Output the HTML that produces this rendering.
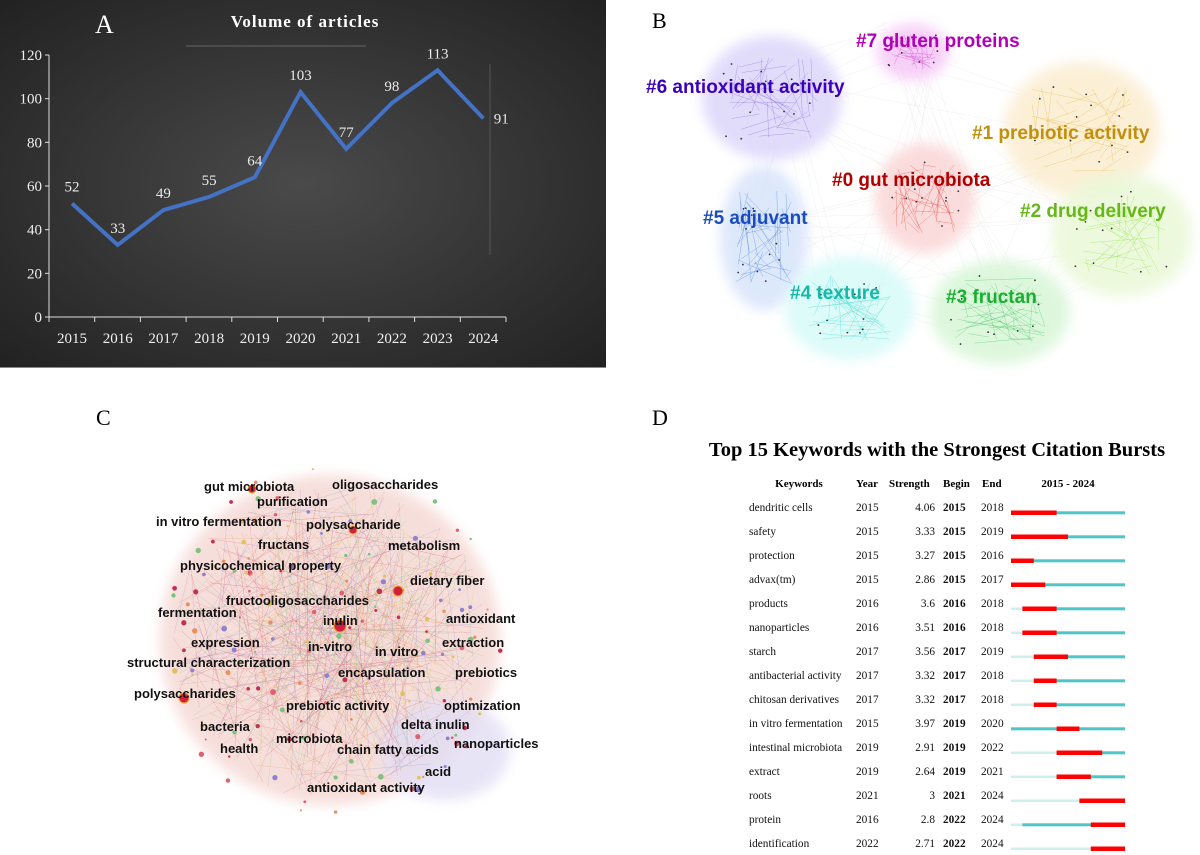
<!DOCTYPE html>
<html><head><meta charset="utf-8">
<style>
html,body{margin:0;padding:0;background:#fff;}
svg{display:block;font-family:"Liberation Sans",sans-serif;}
.serif{font-family:"Liberation Serif",serif;}
</style></head>
<body>
<svg id="root" width="1200" height="855" viewBox="0 0 1200 855" xmlns="http://www.w3.org/2000/svg">
<defs>
<radialGradient id="bgA" cx="0.5" cy="0.5" r="0.75">
<stop offset="0" stop-color="#4a4a4a"/><stop offset="1" stop-color="#1f1f1f"/>
</radialGradient>
<filter id="blur" x="-30%" y="-30%" width="160%" height="160%"><feGaussianBlur stdDeviation="6"/></filter>
</defs>

<!-- Panel A -->
<g id="panelA">
<rect x="0" y="0" width="606" height="368" fill="url(#bgA)"/>
<line x1="0" y1="367.5" x2="606" y2="367.5" stroke="#888" stroke-width="1"/>
<text x="95" y="33" class="serif" font-size="26" fill="#fff">A</text>
<text x="305" y="27" class="serif" font-size="17" font-weight="bold" fill="#fff" text-anchor="middle" letter-spacing="1">Volume of articles</text>
<line x1="186" y1="46" x2="366" y2="46" stroke="#666" stroke-width="1"/>
<line x1="490" y1="64" x2="490" y2="255" stroke="#555" stroke-width="1"/>
<g id="axesA"></g>
<g id="marksA"></g>
</g>

<!-- Panel B -->
<g id="panelB">
<text x="652" y="28" class="serif" font-size="22" fill="#000">B</text>
<g id="blobsB"></g>
<g id="labelsB" font-weight="bold" font-size="19"></g>
</g>

<!-- Panel C -->
<g id="panelC">
<text x="96" y="425" class="serif" font-size="22" fill="#000">C</text>
<g id="netC"></g>
<g id="labelsC" font-weight="bold" font-size="13" fill="#111"></g>
</g>

<!-- Panel D -->
<g id="panelD">
<text x="652" y="425" class="serif" font-size="22" fill="#000">D</text>
<text x="937" y="456" class="serif" font-size="20.5" font-weight="bold" text-anchor="middle">Top 15 Keywords with the Strongest Citation Bursts</text>
<g class="serif" font-size="11" font-weight="bold">
<text x="799" y="487" text-anchor="middle">Keywords</text>
<text x="856" y="487">Year</text>
<text x="889" y="487">Strength</text>
<text x="943" y="487">Begin</text>
<text x="982" y="487">End</text>
<text x="1068" y="487" text-anchor="middle">2015 - 2024</text>
</g>
<g id="rowsD" class="serif" font-size="11.3" fill="#111"></g>
</g>
</svg>

<script>
// ---- Panel A data ----
const years = ["2015","2016","2017","2018","2019","2020","2021","2022","2023","2024"];
const articles = [52,33,49,55,64,103,77,98,113,91];
const yTicks = [0,20,40,60,80,100,120];

// ---- Panel B data ----
const clusterNames = ["#7 gluten proteins","#6 antioxidant activity","#1 prebiotic activity","#0 gut microbiota","#2 drug delivery","#5 adjuvant","#4 texture","#3 fructan"];

// ---- Panel C data ----
const keywordsC = ["gut microbiota","oligosaccharides","purification","in vitro fermentation","polysaccharide","fructans","metabolism","physicochemical property","dietary fiber","fructooligosaccharides","fermentation","antioxidant","inulin","expression","extraction","in-vitro","in vitro","structural characterization","encapsulation","prebiotics","polysaccharides","prebiotic activity","optimization","delta inulin","bacteria","nanoparticles","microbiota","health","chain fatty acids","acid","antioxidant activity"];

// ---- Panel D data ----
const burstKeywords = ["dendritic cells","safety","protection","advax(tm)","products","nanoparticles","starch","antibacterial activity","chitosan derivatives","in vitro fermentation","intestinal microbiota","extract","roots","protein","identification"];
const burstYear = [2015,2015,2015,2015,2016,2016,2017,2017,2017,2015,2019,2019,2021,2016,2022];
const burstStrength = ["4.06","3.33","3.27","2.86","3.6","3.51","3.56","3.32","3.32","3.97","2.91","2.64","3","2.8","2.71"];
const burstBegin = [2015,2015,2015,2015,2016,2016,2017,2017,2017,2019,2019,2019,2021,2022,2022];
const burstEnd = [2018,2019,2016,2017,2018,2018,2019,2018,2018,2020,2022,2021,2024,2024,2024];

const NS="http://www.w3.org/2000/svg";
function mk(tag, attrs, parent){const e=document.createElementNS(NS,tag);for(const k in attrs)e.setAttribute(k,attrs[k]);parent.appendChild(e);return e;}

// ---- Panel A drawing ----
const xA = i => 72 + i*45.7;
const yA = v => 317 - v*(262/120);
const axesA=document.getElementById('axesA'), marksA=document.getElementById('marksA');
let l=mk('line',{x1:49,y1:55,x2:49,y2:317,stroke:'#ddd','stroke-width':1},axesA);


l=mk('line',{x1:49,y1:317,x2:506,y2:317,stroke:'#ddd','stroke-width':1},axesA);


yTicks.forEach(v=>{
  mk('line',{x1:45,y1:yA(v),x2:49,y2:yA(v),stroke:'#ddd'},axesA);
  const t=mk('text',{x:42,y:yA(v)+5,'text-anchor':'end','font-size':15,fill:'#eee',class:'serif'},axesA);
  t.textContent=v;
  
  
});
for(let i=0;i<=years.length;i++){const x=49+i*45.7;mk('line',{x1:x,y1:317,x2:x,y2:322,stroke:'#ddd'},axesA);}
years.forEach((y,i)=>{
  const t=mk('text',{x:xA(i),y:343,'text-anchor':'middle','font-size':15,fill:'#eee',class:'serif'},axesA);
  t.textContent=y;
  
  
});
const pts=articles.map((v,i)=>xA(i)+','+yA(v)).join(' ');
const pl=mk('polyline',{points:pts,fill:'none',stroke:'#4472c4','stroke-width':4,'stroke-linejoin':'miter'},marksA);


articles.forEach((v,i)=>{
  const last=i===articles.length-1;
  const t=mk('text',{x:last?xA(i)+18:xA(i),y:last?yA(v)+5:yA(v)-12,'text-anchor':'middle','font-size':15,fill:'#e8e8e8',class:'serif'},marksA);
  t.textContent=v;
  
  
});

// seeded PRNG for decorative network texture
let seed=7;function rnd(){seed=(seed*16807)%2147483647;return (seed-1)/2147483646;}

// ---- Panel B drawing ----
const blobs=[
 {cx:913,cy:52,rx:36,ry:28,fill:'#f6c8f6',edge:'#d040d0'},
 {cx:772,cy:98,rx:70,ry:62,fill:'#ddd6fb',edge:'#7a5ae0'},
 {cx:1082,cy:130,rx:78,ry:68,fill:'#fbedd0',edge:'#e8b030'},
 {cx:925,cy:198,rx:50,ry:55,fill:'#fbd6d6',edge:'#e83030'},
 {cx:1122,cy:235,rx:70,ry:62,fill:'#eaf8d8',edge:'#80e030'},
 {cx:764,cy:238,rx:44,ry:72,fill:'#d8e4fb',edge:'#3070e0'},
 {cx:850,cy:308,rx:65,ry:52,fill:'#d6fbf8',edge:'#30d8c8'},
 {cx:1000,cy:312,rx:70,ry:52,fill:'#d8f6d8',edge:'#30c050'}
];
const labB=[
 {x:856,y:47,c:'#b000b8'},{x:646,y:93,c:'#3a00bb'},{x:972,y:139,c:'#c09010'},{x:832,y:186,c:'#b00000'},
 {x:1020,y:217,c:'#66b818'},{x:703,y:224,c:'#1a4cc0'},{x:790,y:299,c:'#18b8a8'},{x:946,y:303,c:'#18b030'}
];
const gB=document.getElementById('blobsB');
for(let k=0;k<80;k++){const a=blobs[Math.floor(rnd()*8)],b=blobs[Math.floor(rnd()*8)];mk('line',{x1:a.cx+(rnd()-0.5)*60,y1:a.cy+(rnd()-0.5)*60,x2:b.cx+(rnd()-0.5)*60,y2:b.cy+(rnd()-0.5)*60,stroke:'#ddd','stroke-width':0.4,opacity:0.5},gB);}
blobs.forEach((b,i)=>{
  const e=mk('ellipse',{cx:b.cx,cy:b.cy,rx:b.rx,ry:b.ry,fill:b.fill,opacity:0.85,filter:'url(#blur)'},gB);
  
  
  for(let k=0;k<35;k++){mk('line',{x1:b.cx+(rnd()-0.5)*b.rx*1.3,y1:b.cy+(rnd()-0.5)*b.ry*1.3,x2:b.cx+(rnd()-0.5)*b.rx*1.3,y2:b.cy+(rnd()-0.5)*b.ry*1.3,stroke:b.edge,'stroke-width':0.5,opacity:0.5},gB);}
  for(let k=0;k<12;k++){mk('circle',{cx:b.cx+(rnd()-0.5)*b.rx*1.4,cy:b.cy+(rnd()-0.5)*b.ry*1.4,r:0.9,fill:'#333'},gB);}
});
const gLB=document.getElementById('labelsB');
clusterNames.forEach((n,i)=>{
  const t=mk('text',{x:labB[i].x,y:labB[i].y,fill:labB[i].c},gLB);
  t.textContent=n;
  
  
});

// ---- Panel C drawing ----
const posC=[[204,491],[332,489],[257,506],[156,526],[306,529],[258,549],[388,550],[180,570],[410,585],[226,605],[158,617],[446,623],[323,625],[191,647],[442,647],[308,651],[375,656],[127,667],[338,677],[455,677],[134,698],[286,710],[444,710],[401,729],[200,731],[454,748],[276,743],[220,753],[337,754],[425,776],[307,792]];
const gC=document.getElementById('netC');
const core=mk('ellipse',{cx:330,cy:640,rx:170,ry:165,fill:'#f6dcd8',opacity:0.9,filter:'url(#blur)'},gC);


mk('ellipse',{cx:445,cy:750,rx:65,ry:50,fill:'#e2def4',opacity:0.8,filter:'url(#blur)'},gC);
const colsC=['#e06070','#e89060','#c03050','#9080d0','#80c080','#e0c060'];
for(let k=0;k<420;k++){
  const a=rnd()*6.283,r1=Math.sqrt(rnd())*160,b=rnd()*6.283,r2=Math.sqrt(rnd())*160;
  mk('line',{x1:330+Math.cos(a)*r1,y1:640+Math.sin(a)*r1,x2:330+Math.cos(b)*r2,y2:640+Math.sin(b)*r2,stroke:colsC[k%6],'stroke-width':0.5,opacity:0.35},gC);
}
for(let k=0;k<140;k++){const a=rnd()*6.283,r=Math.sqrt(rnd())*175;mk('circle',{cx:330+Math.cos(a)*r,cy:640+Math.sin(a)*r,r:1+rnd()*2,fill:colsC[k%6]},gC);}
[[340,626,6],[184,698,5],[353,530,4],[398,591,5],[252,489,4]].forEach(c=>mk('circle',{cx:c[0],cy:c[1],r:c[2],fill:'#d02040',stroke:'#f0a020','stroke-width':1},gC));
const gLC=document.getElementById('labelsC');
keywordsC.forEach((n,i)=>{
  const t=mk('text',{x:posC[i][0],y:posC[i][1]},gLC);
  t.textContent=n;
  
  
});

// ---- Panel D drawing ----
const xD = yr => 1011 + (yr-2015)*11.4;
const gD=document.getElementById('rowsD');
burstKeywords.forEach((k,i)=>{
  const y=511+i*24;
  let t=mk('text',{x:749,y:y},gD);t.textContent=k;
  
  
  t=mk('text',{x:856,y:y},gD);t.textContent=burstYear[i];
  
  
  t=mk('text',{x:935,y:y,'text-anchor':'end'},gD);t.textContent=burstStrength[i];
  
  
  t=mk('text',{x:943,y:y,'font-weight':'bold'},gD);t.textContent=burstBegin[i];
  
  
  t=mk('text',{x:981,y:y},gD);t.textContent=burstEnd[i];
  
  
  const by=y+1.5;
  mk('rect',{x:xD(2015),y:by-1,width:xD(2025)-xD(2015),height:2.5,fill:'#cfeeee'},gD);
  let r=mk('rect',{x:xD(burstYear[i]),y:by-1.2,width:xD(2025)-xD(burstYear[i]),height:3,fill:'#4cc6c6'},gD);
  
  
  r=mk('rect',{x:xD(burstBegin[i]),y:by-2,width:xD(burstEnd[i]+1)-xD(burstBegin[i]),height:4.5,fill:'#ff0000'},gD);
  
  
});
</script>
</body></html>
